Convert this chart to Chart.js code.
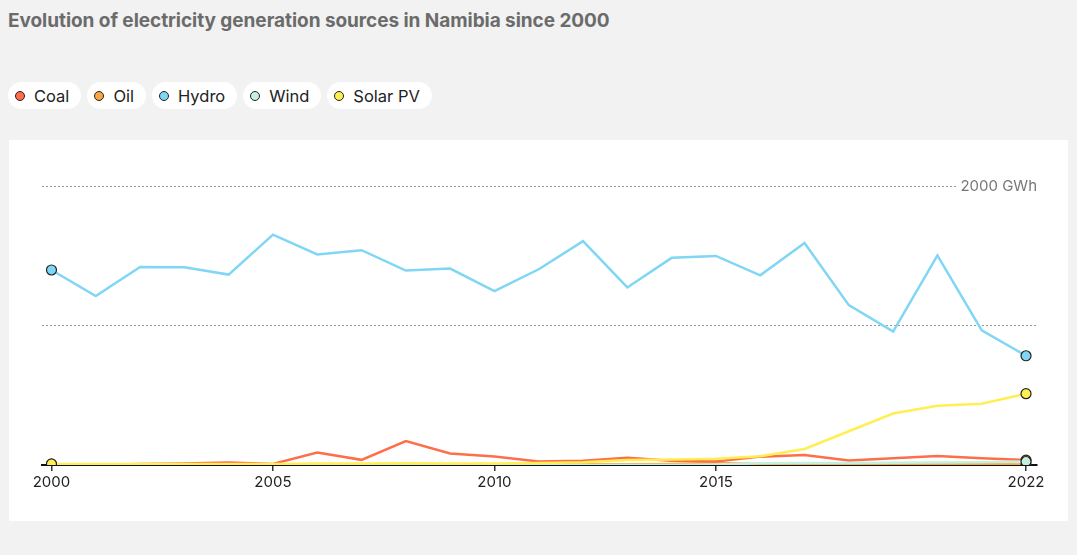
<!DOCTYPE html>
<html>
<head>
<meta charset="utf-8">
<script src="https://cdn.jsdelivr.net/npm/chart.js@4.4.1/dist/chart.umd.min.js"></script>
<style>
  html, body { margin: 0; padding: 0; background: #f2f2f2; font-family: 'Inter', sans-serif; }
  body { width: 1077px; height: 555px; position: relative; overflow: hidden; }
  #title { position: absolute; left: 8px; top: 8px; font-size: 19px; font-weight: 700; color: #6b6b6b; line-height: 25px; letter-spacing: -0.05px; }
  #legend { position: absolute; left: 8px; top: 82px; display: flex; }
  .pill { display: flex; align-items: center; height: 27px; padding: 0 12px 0 7px; margin-right: 6px; background: #fff; border-radius: 14px; font-size: 16.5px; color: #222; }
  .dot { width: 8px; height: 8px; border: 1px solid #222; border-radius: 50%; margin-right: 9px; }
  #panel { position: absolute; left: 9px; top: 140px; width: 1059px; height: 381px; background: #fff; }
</style>
</head>
<body>
<div id="title">Evolution of electricity generation sources in Namibia since 2000</div>
<div id="legend"></div>
<div id="panel"><canvas id="myChart" width="1059" height="381"></canvas></div>
<script>
'use strict';

var years = [2000, 2001, 2002, 2003, 2004, 2005, 2006, 2007, 2008, 2009, 2010, 2011,
  2012, 2013, 2014, 2015, 2016, 2017, 2018, 2019, 2020, 2021, 2022];

// GWh
var coal = [0, 0, 8, 10, 18, 8, 90, 37, 172, 83, 61, 25, 31, 52, 30, 25, 60, 72, 32, 49, 64, 49, 35];
var oil = [5, 5, 5, 5, 8, 5, 5, 5, 5, 5, 5, 5, 5, 5, 8, 15, 8, 5, 5, 5, 5, 5, 3];
var hydro = [1398, 1211, 1420, 1418, 1365, 1651, 1509, 1540, 1394, 1408, 1247, 1403,
  1605, 1273, 1485, 1499, 1360, 1591, 1146, 956, 1502, 965, 783];
var wind = [0, 0, 0, 0, 0, 0, 0, 0, 0, 0, 0, 0, 0, 0, 0, 3, 12, 15, 15, 16, 18, 20, 25];
var solar = [8, 8, 8, 8, 8, 8, 10, 10, 12, 10, 10, 15, 20, 35, 40, 45, 62, 115, 242, 369, 424, 439, 511];

var seriesNames = ['Coal', 'Oil', 'Hydro', 'Wind', 'Solar PV'];
var seriesColors = ['#ff6e4a', '#f9a73e', '#7fd6f5', '#c6f0de', '#ffef55'];
var seriesData = [coal, oil, hydro, wind, solar];
var drawOrder = [3, 4, 2, 1, 0]; // lower = on top

var xTicks = [2000, 2005, 2010, 2015, 2022];
var yTicks = [0, 1000, 2000];
var yUnitLabel = '2000 GWh';

// html legend pills
var legend = document.getElementById('legend');
for (var i = 0; i < seriesNames.length; i++) {
  var pill = document.createElement('div');
  pill.className = 'pill';
  var dot = document.createElement('span');
  dot.className = 'dot';
  dot.style.background = seriesColors[i];
  pill.appendChild(dot);
  pill.appendChild(document.createTextNode(seriesNames[i]));
  legend.appendChild(pill);
}

function endPointRadius(ctx) {
  var last = years.length - 1;
  return (ctx.dataIndex === 0 || ctx.dataIndex === last) ? 5 : 0;
}

var datasets = [];
for (var s = 0; s < seriesNames.length; s++) {
  var pts = [];
  for (var k = 0; k < years.length; k++) {
    pts.push({ x: years[k], y: seriesData[s][k] });
  }
  datasets.push({
    label: seriesNames[s],
    data: pts,
    borderColor: seriesColors[s],
    backgroundColor: seriesColors[s],
    borderWidth: 2.5,
    pointRadius: endPointRadius,
    pointBorderColor: '#222',
    pointBorderWidth: 1.2,
    pointBackgroundColor: seriesColors[s],
    tension: 0,
    order: drawOrder[s]
  });
}

Chart.defaults.font.family = 'Inter';

var ctx = document.getElementById('myChart').getContext('2d');
var chart = new Chart(ctx, {
  type: 'line',
  data: { datasets: datasets },
  options: {
    responsive: false,
    animation: false,
    events: [],
    layout: { padding: { left: 33, right: 31, top: 46, bottom: 28 } },
    plugins: { legend: { display: false }, tooltip: { enabled: false } },
    scales: {
      x: {
        type: 'linear',
        min: 1999.786,
        max: 2022.248,
        afterBuildTicks: function (scale) {
          scale.ticks = xTicks.map(function (v) { return { value: v }; });
        },
        grid: { drawOnChartArea: false, drawTicks: true, tickLength: 6, color: '#333', lineWidth: 1.5 },
        border: { display: true, color: '#111', width: 2 },
        ticks: {
          color: '#222',
          font: { size: 15 },
          padding: 2,
          maxRotation: 0,
          autoSkip: false,
          callback: function (v) { return '' + v; }
        }
      },
      y: {
        position: 'right',
        min: 0,
        max: 2000,
        afterBuildTicks: function (scale) {
          scale.ticks = yTicks.map(function (v) { return { value: v }; });
        },
        grid: {
          drawTicks: false,
          lineWidth: 1,
          color: function (c) { return c.tick && c.tick.value === 0 ? 'rgba(0,0,0,0)' : '#999'; }
        },
        border: { display: false, dash: [2, 2] },
        ticks: {
          mirror: true,
          padding: 0,
          color: '#777',
          font: { size: 15 },
          showLabelBackdrop: true,
          backdropColor: function (c) { return c.tick && c.tick.value === 2000 ? '#fff' : 'rgba(0,0,0,0)'; },
          backdropPadding: { left: 3, right: 0, top: 0, bottom: 0 },
          callback: function (v) { return v === 2000 ? yUnitLabel : ''; }
        }
      }
    }
  }
});
</script>
</body>
</html>
